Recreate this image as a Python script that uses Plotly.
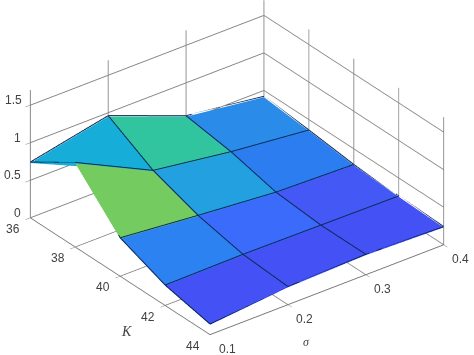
import numpy as np
import plotly.graph_objects as go

sigma = [0.1, 0.2, 0.3, 0.4]
K = [36, 38, 40, 42, 44]
# rows follow K, columns follow sigma
Z = [
    [0.73, 0.95, 0.55, 0.41],
    [1.115, 0.61, 0.46, 0.35],
    [0.50, 0.40, 0.31, 0.28],
    [0.26, 0.27, 0.26, 0.25],
    [0.13, 0.23, 0.26, 0.23],
]
z_ticks = [0, 0.5, 1, 1.5]
z_labels = ["0", "0.5", "1", "1.5"]

c_min, c_max = 0.25, 1.115
anchors = [(0.25, "#4450F5"), (0.31, "#4458F5"), (0.40, "#3A6BFA"), (0.46, "#2C7DF0"),
           (0.50, "#2C82F0"), (0.55, "#2A8CE8"), (0.61, "#22A0E0"), (0.73, "#16ADD8"),
           (0.95, "#2FC4A0"), (1.115, "#74CC60")]
colorscale = [[(v - c_min) / (c_max - c_min), c] for v, c in anchors]

xs, ys, zs, i, j, k, cell = [], [], [], [], [], [], []
for r, kv in enumerate(K):
    for c, sv in enumerate(sigma):
        xs.append(sv); ys.append(kv); zs.append(Z[r][c])
nc = len(sigma)
for r in range(len(K) - 1):
    for c in range(nc - 1):
        a = r * nc + c
        b, d, e = a + 1, a + nc, a + nc + 1
        i += [a, a]; j += [b, e]; k += [e, d]
        cell += [Z[r][c], Z[r][c]]

fig = go.Figure()
fig.add_trace(go.Mesh3d(
    x=xs, y=ys, z=zs, i=i, j=j, k=k,
    intensity=cell, intensitymode="cell",
    colorscale=colorscale, cmin=c_min, cmax=c_max, showscale=False,
    flatshading=True,
    lighting=dict(ambient=1, diffuse=0, specular=0, roughness=1, fresnel=0),
    hoverinfo="skip",
))

lift = 0.012  # keeps the mesh edges just above the faces
lx, ly, lz = [], [], []
for r, kv in enumerate(K):
    for c, sv in enumerate(sigma):
        lx.append(sv); ly.append(kv); lz.append(Z[r][c] + lift)
    lx.append(None); ly.append(None); lz.append(None)
for c, sv in enumerate(sigma):
    for r, kv in enumerate(K):
        lx.append(sv); ly.append(kv); lz.append(Z[r][c] + lift)
    lx.append(None); ly.append(None); lz.append(None)
fig.add_trace(go.Scatter3d(x=lx, y=ly, z=lz, mode="lines",
                           line=dict(color="#0B2A5A", width=2), hoverinfo="skip", showlegend=False))

common = dict(showbackground=False, showgrid=True, gridcolor="#858585", gridwidth=2,
              showline=True, linecolor="#777777", linewidth=2, zeroline=False,
              ticks="outside", ticklen=6, tickcolor="#777777", showticklabels=False,
              showspikes=False, title=dict(text=""))
tick_font = dict(family="Liberation Sans", size=12, color="#404040")
anns = []
for s in sigma:
    anns.append(dict(x=s, y=44, z=0, text=str(s), showarrow=False, xshift=17, yshift=-14, font=tick_font))
for kv in K:
    anns.append(dict(x=0.1, y=kv, z=0, text=str(kv), showarrow=False, xshift=-17, yshift=-11, font=tick_font))
z_shift = {"0": -13, "0.5": -18, "1": -13, "1.5": -17}
for zv, zl in zip(z_ticks, z_labels):
    anns.append(dict(x=0.1, y=36, z=zv, text=zl, showarrow=False, xshift=z_shift[zl], yshift=5, font=tick_font))
anns.append(dict(x=0.1, y=43, z=0, text="<i>K</i>", showarrow=False, xshift=-61, yshift=-11,
                 font=dict(family="Liberation Serif", size=14, color="#404040")))
anns.append(dict(x=0.2, y=44, z=0, text="<i>σ</i>", showarrow=False, xshift=19, yshift=-37,
                 font=dict(family="Liberation Serif", size=12, color="#404040")))

phi = np.arctan2(180, 234)
el = np.radians(30)
r = 1.8
eye = dict(x=-r * np.sin(phi) * np.cos(el), y=-r * np.cos(phi) * np.cos(el), z=r * np.sin(el))
scale = 1.76
fig.update_layout(
    width=474, height=355, margin=dict(l=0, r=0, t=0, b=0),
    paper_bgcolor="white", showlegend=False,
    scene=dict(
        domain=dict(x=[0, 1], y=[0.056, 1]),
        xaxis=dict(common, range=[0.1, 0.4], tickvals=sigma),
        yaxis=dict(common, range=[44, 36], tickvals=K),
        zaxis=dict(common, range=[0, 1.7], tickvals=z_ticks),
        aspectmode="manual", aspectratio=dict(x=scale, y=scale, z=0.5 * scale),
        camera=dict(projection=dict(type="orthographic"), eye=eye,
                    up=dict(x=0, y=0, z=1), center=dict(x=0, y=0, z=0)),
        annotations=anns,
    ),
)
fig.write_html("out.html", config=dict(displayModeBar=False),
               post_script="document.body.style.margin='0';document.documentElement.style.overflow='hidden';")
